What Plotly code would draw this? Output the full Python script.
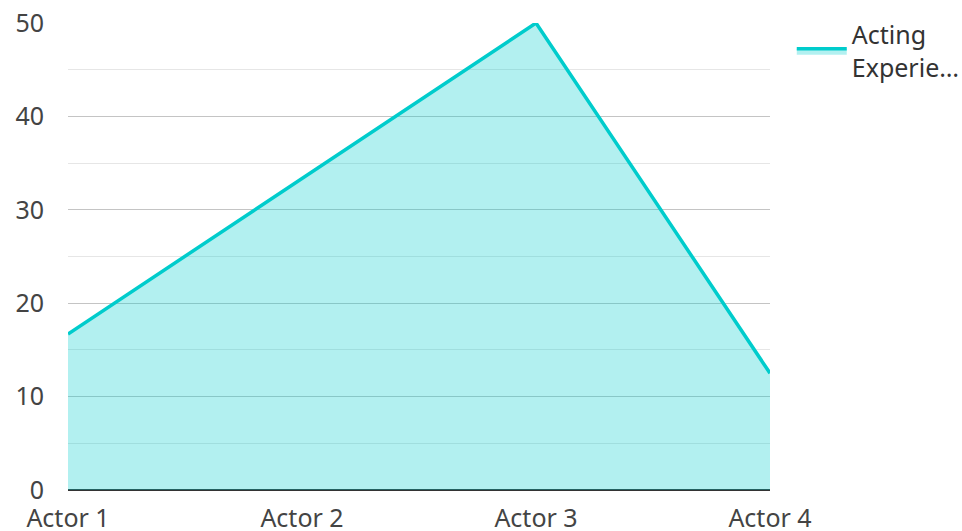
import plotly.graph_objects as go

categories = ["Actor 1", "Actor 2", "Actor 3", "Actor 4"]
values = [16.7, 33.3, 50, 12.5]
series_name = "Acting<br>Experie…"
y_ticks = [0, 10, 20, 30, 40, 50]

fig = go.Figure()
fig.add_trace(go.Scatter(
    x=categories, y=values, mode="lines", name=series_name,
    fill="tozeroy", fillcolor="rgba(0,204,204,0.3)",
    line=dict(color="#00cccc", width=3.5),
    showlegend=True,
))

fig.update_layout(
    width=962, height=531,
    margin=dict(l=68, r=192, t=23, b=41, autoexpand=False),
    plot_bgcolor="white", paper_bgcolor="white",
    font=dict(family="Noto Sans, Open Sans, sans-serif", size=25, color="#444444"),
    showlegend=True,
    legend=dict(x=1.031, y=1.024, xanchor="left", yanchor="top",
                font=dict(size=25, color="#333333"), itemwidth=50,
                tracegroupgap=0),
    xaxis=dict(
        range=[0, 3], showgrid=False, zeroline=False, showline=False,
        ticks="outside", ticklen=6, tickcolor="rgba(0,0,0,0)",
        fixedrange=True, automargin=False,
    ),
    yaxis=dict(
        range=[0, 50], tickvals=y_ticks, showgrid=True, gridcolor="#c4c4c4", gridwidth=1,
        minor=dict(dtick=5, showgrid=True, gridcolor="#e6e6e6", gridwidth=1),
        zeroline=True, zerolinecolor="#333333", zerolinewidth=2,
        showline=False, ticks="outside", ticklen=18, tickcolor="rgba(0,0,0,0)",
        fixedrange=True, automargin=False,
    ),
)

fig.write_html("out.html", config={"displayModeBar": False},
               post_script="document.body.style.margin='0';")
